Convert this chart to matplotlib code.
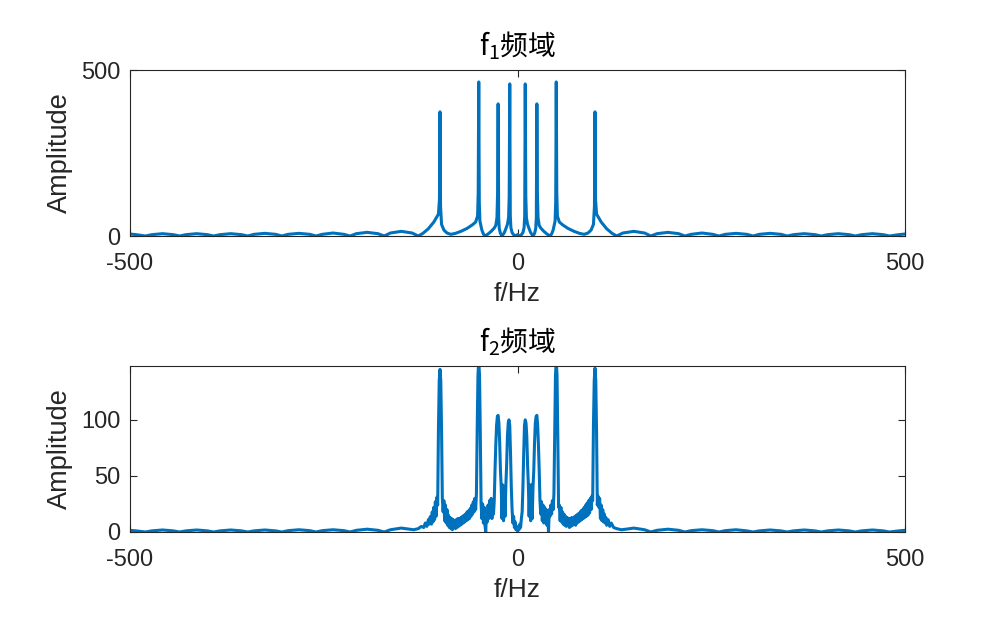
import numpy as np
import matplotlib
matplotlib.use('Agg')
import matplotlib.pyplot as plt

# 字体：英文用 Liberation Sans，中文回落到 Noto Sans CJK SC
plt.rcParams['font.family'] = ['Liberation Sans', 'Noto Sans CJK SC', 'DejaVu Sans']
plt.rcParams['axes.unicode_minus'] = False

# ---------------- f1 频谱（从图上读取，Hz / 幅值）----------------
f1_freq = [
    # 左侧旁瓣
    -500, -492, -480, -472, -458, -444, -436, -428, -414, -400,
    -392, -384, -370, -356, -348, -340, -326, -312, -304, -296,
    -282, -268, -260, -252, -238, -224, -216, -208, -194, -180,
    -172, -164, -150, -136,
    # 中间谱峰
    -128, -122, -115, -108, -104, -102, -100.7, -100, -99.3, -98,
    -95, -91, -86, -80, -73, -65, -58, -54, -51.5, -50.7,
    -50, -49.3, -48.5, -46, -44, -42, -38, -34, -30, -28,
    -26.5, -25.7, -25, -24.3, -23.5, -22, -20, -17, -15, -13,
    -11.5, -10.7, -10, -9.3, -8.5, -7, -5, -3, 0, 3,
    5, 7, 8.5, 9.3, 10, 10.7, 11.5, 13, 15, 17,
    20, 22, 23.5, 24.3, 25, 25.7, 26.5, 28, 30, 34,
    38, 42, 44, 46, 48.5, 49.3, 50, 50.7, 51.5, 54,
    58, 65, 73, 80, 86, 91, 95, 98, 99.3, 100,
    100.7, 102, 104, 108, 115, 122, 128,
    # 右侧旁瓣
    136, 150, 164, 172, 180, 194, 208, 216, 224, 238,
    252, 260, 268, 282, 296, 304, 312, 326, 340, 348,
    356, 370, 384, 392, 400, 414, 428, 436, 444, 458,
    472, 480, 492, 500,
]
f1_amp = [
    6, 4, 0, 4, 7, 4, 0, 4, 7, 4,
    0, 4, 7, 4, 0, 5, 8, 5, 0, 5,
    8, 5, 0, 5, 9, 5, 0, 7, 11, 7,
    0, 9, 14, 9,
    0, 8, 22, 42, 58, 66, 110, 374, 90, 35,
    18, 9, 5, 8, 14, 23, 34, 42, 60, 130,
    464, 100, 45, 18, 6, 0, 6, 14, 24, 32,
    55, 130, 398, 55, 22, 8, 0, 10, 22, 35,
    55, 120, 458, 60, 25, 10, 4, 0, 4, 0,
    4, 10, 25, 60, 458, 120, 55, 35, 22, 10,
    0, 8, 22, 55, 398, 130, 55, 32, 24, 14,
    6, 0, 6, 18, 45, 100, 464, 130, 60, 42,
    34, 23, 14, 8, 5, 9, 18, 35, 90, 374,
    110, 66, 58, 42, 22, 8, 0,
    9, 14, 9, 0, 7, 11, 7, 0, 5, 9,
    5, 0, 5, 8, 5, 0, 5, 8, 5, 0,
    4, 7, 4, 0, 4, 7, 4, 0, 4, 7,
    4, 0, 4, 6,
]

# ---------------- f2 频谱 ----------------
# 左侧旁瓣
f2_left_freq = [-500, -492, -480, -472, -458, -444, -436, -428, -414, -400,
                -392, -384, -370, -356, -348, -340, -326, -312, -304, -296,
                -282, -268, -260, -252, -238, -224, -216, -208, -194, -180,
                -172, -164, -150, -140, -134, -128, -124, -121, -119, -117,
                -115, -114, -113]
f2_left_amp = [1.5, 1, 0, 1, 1.8, 1, 0, 1, 1.8, 1,
               0, 1, 1.8, 1, 0, 1, 1.8, 1, 0, 1.2,
               2, 1.2, 0, 1.2, 2, 1.2, 0, 1.5, 2.5, 1.5,
               0, 2, 3.5, 2.5, 2, 3, 5, 4, 8, 5,
               11, 7, 13]
# 中间 -112 ~ 112 Hz，每 1 Hz 一个点
f2_mid_freq = list(range(-112, 113))
f2_mid_amp = [
    14, 7, 18, 9, 22, 11, 27, 14,          # -112 .. -105
    31, 24, 92, 135, 145, 135, 92, 30,     # -104 .. -97
    18, 28, 10, 24, 8, 20, 6, 15,
    4, 13, 3, 12, 2, 11, 4, 10,
    3, 11, 4, 12, 5, 12, 6, 13,
    7, 14, 8, 15, 9, 16, 10, 18,
    11, 19, 12, 21, 14, 24, 16, 27,
    18, 30, 20, 34, 92, 140, 152, 140,     # -56 .. -49
    88, 25, 12, 25, 8, 22, 6, 0,
    18, 9, 24, 12, 28, 14, 30, 12,
    26, 16, 28, 55, 78, 95, 103, 104,      # -32 .. -25
    97, 80, 55, 40, 12, 42, 10, 40,
    14, 42, 60, 85, 97, 100, 95, 70,       # -16 .. -9
    40, 20, 8, 14, 4, 9, 2, 5,             # -8 .. -1
    1, 4, 2, 7, 4, 12, 18, 40,             # 0 .. 7
    70, 95, 100, 97, 85, 60, 42, 14,
    42, 10, 42, 12, 40, 55, 80, 97,
    103, 104, 95, 78, 55, 28, 16, 27,      # 24 .. 31
    10, 24, 8, 22, 12, 20, 6, 18,
    0, 20, 14, 24, 16, 28, 20, 34,
    90, 140, 152, 140, 85, 22, 24, 10,     # 48 .. 55
    22, 9, 18, 7, 16, 6, 14, 5,
    13, 6, 12, 4, 12, 5, 13, 6,
    12, 7, 14, 6, 15, 8, 16, 9,
    17, 10, 19, 11, 20, 12, 22, 13,
    24, 14, 26, 15, 28, 17, 30, 20,
    32, 28, 95, 135, 146, 135, 90, 24,     # 96 .. 103
    32, 22, 30, 12, 24, 10, 20, 9,
    16,                                    # 112
]
# 右侧旁瓣
f2_right_freq = [113, 114, 115, 117, 119, 121, 124, 128, 134, 140,
                 150, 164, 172, 180, 194, 208, 216, 224, 238, 252,
                 260, 268, 282, 296, 304, 312, 326, 340, 348, 356,
                 370, 384, 392, 400, 414, 428, 436, 444, 458, 472,
                 480, 492, 500]
f2_right_amp = [8, 13, 6, 11, 5, 8, 4, 3, 2, 2.5,
                3.5, 2, 0, 1.5, 2.5, 1.5, 0, 1.2, 2, 1.2,
                0, 1.2, 2, 1, 0, 1, 1.8, 1, 0, 1,
                1.8, 1, 0, 1, 1.8, 1, 0, 1, 1.8, 1,
                0, 1, 1.5]

f2_freq = f2_left_freq + f2_mid_freq + f2_right_freq
f2_amp = f2_left_amp + f2_mid_amp + f2_right_amp

titles = [r'$\mathregular{f_1}$频域', r'$\mathregular{f_2}$频域']
x_ticks = [-500, 0, 500]
y_ticks_1 = [0, 500]
y_ticks_2 = [0, 50, 100]

line_color = '#0072BD'
text_color = '#262626'


def style_axes(ax):
    ax.tick_params(direction='in', top=True, right=True, length=5, width=0.8,
                   colors=text_color, labelsize=17, pad=7)
    ax.tick_params(axis='x', pad=12)
    for sp in ax.spines.values():
        sp.set_color(text_color)
        sp.set_linewidth(0.8)


fig = plt.figure(figsize=(10, 6.25), dpi=100)
ax1 = fig.add_axes([0.13, 0.6224, 0.775, 0.2656])
ax2 = fig.add_axes([0.13, 0.1488, 0.775, 0.2656])

ax1.plot(f1_freq, f1_amp, color=line_color, linewidth=2.2)
ax1.set_xlim(-500, 500)
ax1.set_ylim(0, 500)
ax1.set_yticks(y_ticks_1)

ax2.plot(f2_freq, f2_amp, color=line_color, linewidth=2.2)
ax2.set_xlim(-500, 500)
ax2.set_ylim(0, 148)
ax2.set_yticks(y_ticks_2)

for ax, t in zip([ax1, ax2], titles):
    ax.set_xticks(x_ticks)
    style_axes(ax)
    ax.set_xlabel('f/Hz', fontsize=19, color=text_color, labelpad=5)
    ax.set_ylabel('Amplitude', fontsize=19.5, color=text_color, labelpad=6)
    ax.set_title(t, fontsize=20, family=['Noto Sans CJK SC', 'DejaVu Sans'], pad=11)

plt.savefig('out.png', dpi=100)
